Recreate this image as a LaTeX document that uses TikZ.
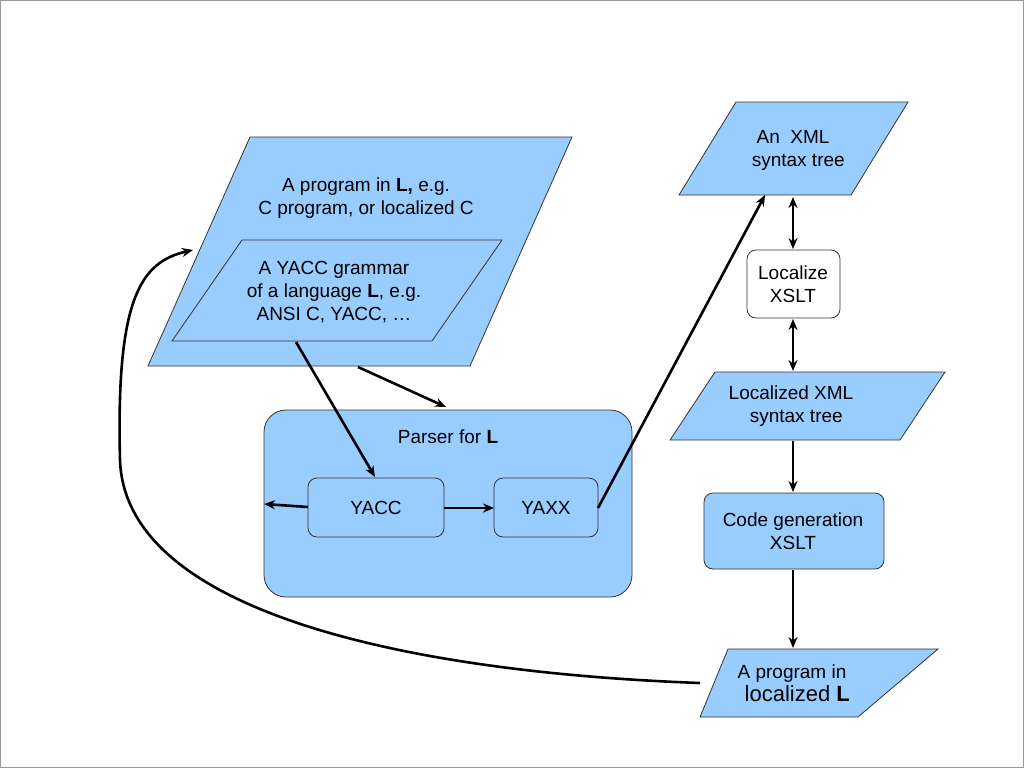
\documentclass[tikz,border=0pt]{standalone}
\usepackage{fontspec}
\setmainfont{Liberation Sans}
\usetikzlibrary{arrows.meta}
\definecolor{lb}{HTML}{99CCFF}
\begin{document}
\begin{tikzpicture}[x=1pt,y=-1pt,
  shp/.style={fill=lb,draw=black!80,line width=0.8pt},
  rbox/.style={fill=lb,draw=black!80,line width=0.8pt,rounded corners=9pt},
  arr/.style={line width=2.6pt,-{Stealth[length=11pt,width=9pt]}},
  darr/.style={line width=2.6pt,{Stealth[length=11pt,width=9pt]}-{Stealth[length=11pt,width=9pt]}},
  txt/.style={font=\fontsize{19}{23}\selectfont,align=center,inner sep=0pt}]
\useasboundingbox (0,0) rectangle (1024,768);
\draw[black!40] (0.5,0.5) rectangle (1023.5,767.5);
% left big parallelogram
\draw[shp] (148,366) -- (250,137) -- (572,137) -- (470,366) -- cycle;
\draw[shp] (172,341) -- (242,240) -- (502,240) -- (432,341) -- cycle;
\node[txt] (t1) at (366,198) {A program in \textbf{L,} e.g.\\C program, or localized C};
\node[txt] (t2) at (334,292) {A YACC grammar\\of a language \textbf{L}, e.g.\\ANSI C, YACC, …};
% parser
\draw[rbox,rounded corners=22pt] (264,410) rectangle (632,597);
\node[txt] (parser) at (448,437) {Parser for \textbf{L}};
\draw[rbox] (308,478) rectangle (444,537);
\node[txt] (yacc) at (376,508) {YACC};
\draw[rbox] (494,478) rectangle (598,537);
\node[txt] (yaxx) at (546,508) {YAXX};
% right column
\draw[shp] (679,195) -- (736,102) -- (908,102) -- (851,195) -- cycle;
\node[txt] (xml) at (793,150) {An~~XML\\~~syntax tree};
\draw[fill=white,draw=black!80,line width=0.8pt,rounded corners=9pt] (747,250) rectangle (840,318);
\node[txt] (loc) at (793,284) {Localize\\XSLT};
\draw[shp] (670,440) -- (715,372) -- (945,372) -- (900,440) -- cycle;
\node[txt] (lxml) at (791,406) {Localized XML\\~~syntax tree};
\draw[rbox] (704,493) rectangle (884,569);
\node[txt] (cg) at (793,531) {Code generation\\XSLT};
\draw[shp] (700,717) -- (728,649) -- (938,649) -- (858,717) -- cycle;
\node[txt] (prog) at (792,683) {A program in\\~~{\fontsize{22}{26}\selectfont localized \textbf{L}}};
% coordinates
\coordinate (a1) at (296,342); \coordinate (a2) at (375,477);
\coordinate (b1) at (358,367); \coordinate (b2) at (446,407);
\coordinate (c1) at (308,507); \coordinate (c2) at (264,504);
\coordinate (d1) at (444,508); \coordinate (d2) at (494,508);
\coordinate (e1) at (598,508); \coordinate (e2) at (765,195);
\coordinate (f1) at (793,197); \coordinate (f2) at (793,249);
\coordinate (g1) at (793,319); \coordinate (g2) at (793,371);
\coordinate (h1) at (793,441); \coordinate (h2) at (793,492);
\coordinate (i1) at (793,570); \coordinate (i2) at (793,648);
\coordinate (j1) at (700,683); \coordinate (j2) at (193,250);
\draw[arr] (a1) -- (a2);
\draw[arr] (b1) -- (b2);
\draw[arr] (c1) -- (c2);
\draw[arr] (d1) -- (d2);
\draw[arr] (e1) -- (e2);
\draw[darr] (f1) -- (f2);
\draw[darr] (g1) -- (g2);
\draw[arr] (h1) -- (h2);
\draw[arr] (i1) -- (i2);
\draw[arr] (j1) .. controls (400,672) and (125,610) .. (120,460) .. controls (116,300) and (140,262) .. (j2);
\end{tikzpicture}
\end{document}
